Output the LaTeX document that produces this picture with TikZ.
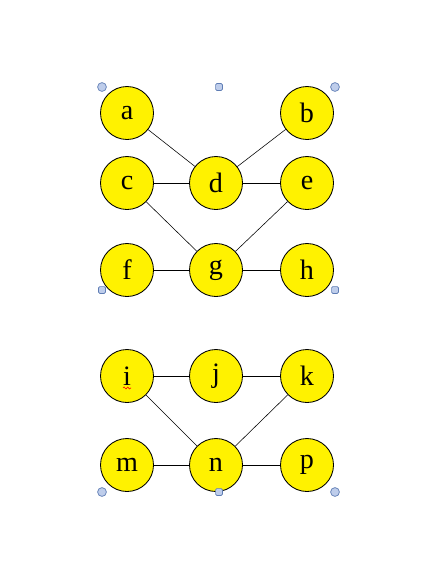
\documentclass[tikz,border=0pt]{standalone}
\usepackage{fontspec}
\setmainfont{Liberation Serif}
\usetikzlibrary{calc}
\usetikzlibrary{decorations.pathmorphing}
\definecolor{handleline}{RGB}{95,125,180}
\definecolor{handlefill}{RGB}{190,205,235}
\tikzstyle{vertex} = [circle, draw, fill=yellow, line width=0.6pt, minimum size=13.25mm, inner sep=0pt, font=\fontsize{20}{24}\selectfont]
\tikzstyle{roundhandle} = [circle, draw=handleline, fill=handlefill, line width=0.5pt, minimum size=2.2mm, inner sep=0pt]
\tikzstyle{squarehandle} = [rectangle, rounded corners=0.3mm, draw=handleline, fill=handlefill, line width=0.5pt, minimum size=1.7mm, inner sep=0pt]

\begin{document}
\begin{tikzpicture}[x=0.25mm, y=-0.25mm]
	\useasboundingbox (0,0) rectangle (432,576);

	% first graph
	\node[vertex] (a) at (127,113) {a};
	\node[vertex] (b) at (307,113) {b};
	\node[vertex] (c) at (127,183) {c};
	\node[vertex] (d) at (216,183) {d};
	\node[vertex] (e) at (307,183) {e};
	\node[vertex] (f) at (127,270) {f};
	\node[vertex] (g) at (216,270) {g};
	\node[vertex] (h) at (307,270) {h};

	\draw (a) -- (d) -- (b);
	\draw (c) -- (d) -- (e);
	\draw (c) -- (g) -- (e);
	\draw (f) -- (g) -- (h);

	% second graph
	\node[vertex] (i) at (127,376) {i};
	\node[vertex] (j) at (216,376) {j};
	\node[vertex] (k) at (307,376) {k};
	\node[vertex] (m) at (127,465) {m};
	\node[vertex] (n) at (216,465) {n};
	\node[vertex] (p) at (307,465) {p};

	\draw (i) -- (j) -- (k);
	\draw (i) -- (n) -- (k);
	\draw (m) -- (n) -- (p);

	\draw[red, line width=0.4pt, decorate, decoration={snake, amplitude=0.25mm, segment length=0.9mm}]
		(123,388) -- (131,388);

	% selection handles
	\node[roundhandle] (h1) at (102,87) {};
	\node[squarehandle] (h2) at (219,87) {};
	\node[roundhandle] (h3) at (335,87) {};
	\node[squarehandle] (h4) at (102,290) {};
	\node[squarehandle] (h5) at (335,290) {};
	\node[roundhandle] (h6) at (102,492) {};
	\node[squarehandle] (h7) at (219,492) {};
	\node[roundhandle] (h8) at (335,492) {};

\end{tikzpicture}
\end{document}
